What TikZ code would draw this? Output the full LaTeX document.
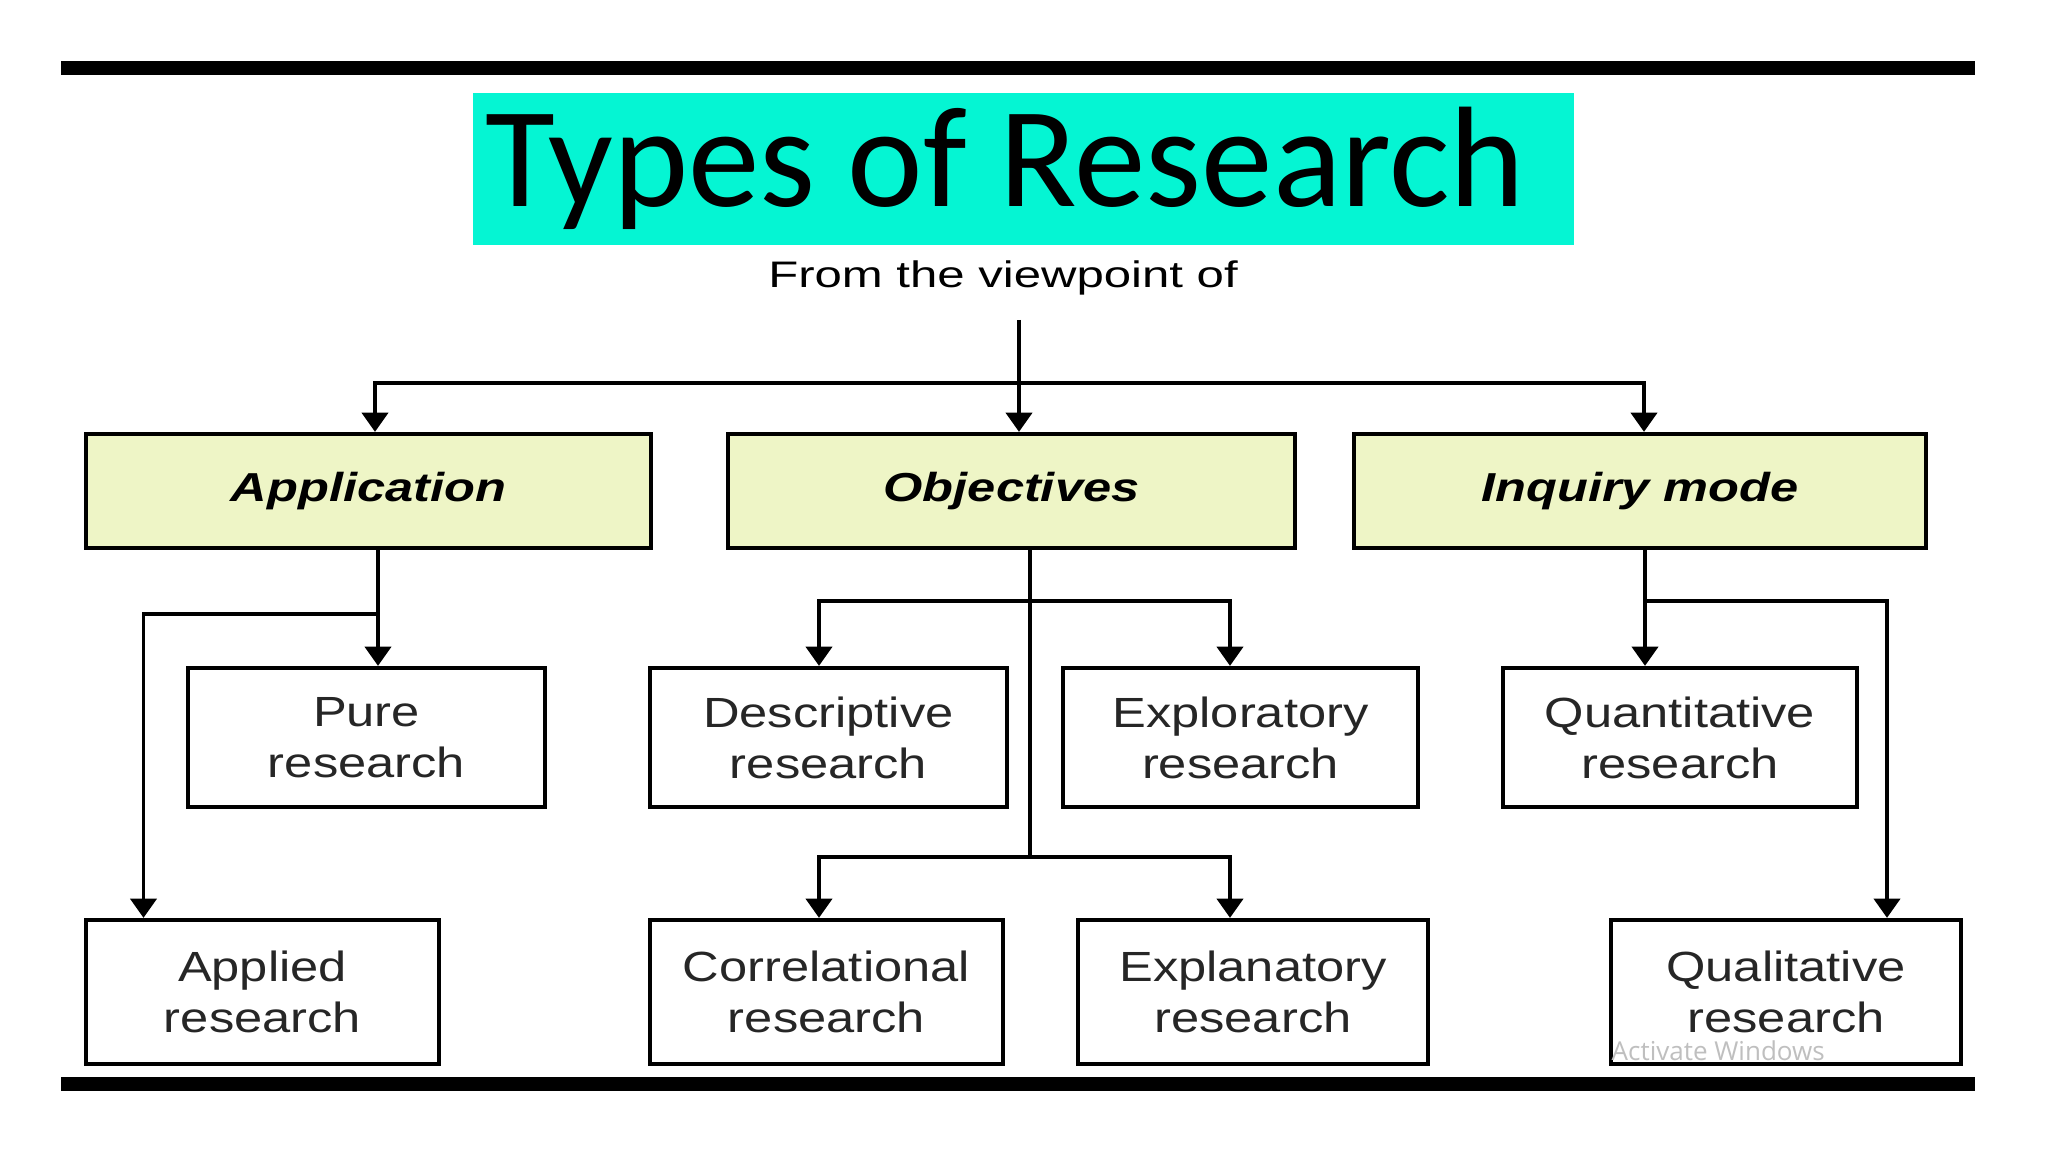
\documentclass[tikz,border=0pt]{standalone}
\usepackage{fontspec}
\usetikzlibrary{arrows.meta}
\setmainfont{Liberation Sans}
\newfontfamily\titlefont{Carlito}
\newfontfamily\catfont[FakeStretch=1.25]{Liberation Sans}
\newfontfamily\leaffont[FakeStretch=1.2]{Liberation Sans}
\newfontfamily\vpfont[FakeStretch=1.33]{Liberation Sans}
\newfontfamily\wmfont{Open Sans}
\definecolor{titlecyan}{HTML}{05F5D3}
\definecolor{catfill}{HTML}{EEF5C6}
\begin{document}
\begin{tikzpicture}[x=0.01cm,y=-0.01cm,
  catbox/.style={draw=black, line width=1.2pt, fill=catfill, minimum height=1.14cm, inner sep=0pt,
    font=\catfont\bfseries\itshape\fontsize{11.5}{13}\selectfont},
  leafbox/.style={draw=black, line width=1.2pt, fill=white, inner sep=0pt, align=center,
    text=black!85, font=\leaffont\fontsize{12}{14.5}\selectfont},
  conn/.style={line width=1pt},
  arr/.style={conn, -{Triangle[width=7.5pt,length=5.5pt]}}]

\useasboundingbox[fill=white] (0,0) rectangle (2048,1152);

% horizontal bars
\fill (61,61) rectangle (1975,75);
\fill (61,1077) rectangle (1975,1091);

% title
\node[fill=titlecyan, minimum width=11.01cm, minimum height=1.52cm, inner sep=0pt] (titlebox) at (1023.5,169) {};
\node[anchor=base, inner sep=0pt, font=\titlefont\fontsize{40.7}{48}\selectfont] (title) at (1005,207) {Types of Research};
\node[anchor=base, inner sep=0pt, font=\vpfont\fontsize{10.5}{12}\selectfont] (vp) at (1003,288) {From the viewpoint of};

% category boxes
\node[catbox, minimum width=5.65cm] (app) at (368.5,491) {Application};
\node[catbox, minimum width=5.67cm] (obj) at (1011.5,491) {Objectives};
\node[catbox, minimum width=5.72cm] (inq) at (1640,491) {Inquiry mode};

% leaf boxes, row 1
\node[leafbox, minimum width=3.57cm, minimum height=1.39cm] (pure) at (366.5,737.5) {Pure\\research};
\node[leafbox, minimum width=3.57cm, minimum height=1.39cm] (desc) at (828.5,737.5) {Descriptive\\research};
\node[leafbox, minimum width=3.55cm, minimum height=1.39cm] (expl) at (1240.5,737.5) {Exploratory\\research};
\node[leafbox, minimum width=3.54cm, minimum height=1.39cm] (quan) at (1680,737.5) {Quantitative\\research};

% leaf boxes, row 2
\node[leafbox, minimum width=3.53cm, minimum height=1.44cm] (appl) at (262.5,992) {Applied\\research};
\node[leafbox, minimum width=3.53cm, minimum height=1.44cm] (corr) at (826.5,992) {Correlational\\research};
\node[leafbox, minimum width=3.50cm, minimum height=1.44cm] (expn) at (1253,992) {Explanatory\\research};
\node[leafbox, minimum width=3.50cm, minimum height=1.44cm] (qual) at (1786,992) {Qualitative\\research};

% top connectors
\coordinate (root) at (1019,320);
\coordinate (hub) at (1019,383);
\coordinate (ha) at (375,383);
\coordinate (hi) at (1644,383);
\draw[arr] (root) -- (root |- obj.north);
\draw[arr] (hub) -| (ha |- app.north);
\draw[arr] (hub) -| (hi |- inq.north);

% application branch
\coordinate (a1) at (378,614);
\coordinate (a2) at (143.5,614);
\draw[arr] (a1 |- app.south) -- (a1 |- pure.north);
\draw[arr] (a1) -- (a2) -- (a2 |- appl.north);

% objectives branch
\coordinate (o1) at (1030,601);
\coordinate (o2) at (1030,857);
\coordinate (xl) at (819,0);
\coordinate (xr) at (1230,0);
\draw[conn] (o1 |- obj.south) -- (o2);
\draw[arr] (o1) -| (xl |- desc.north);
\draw[arr] (o1) -| (xr |- expl.north);
\draw[arr] (o2) -| (xl |- corr.north);
\draw[arr] (o2) -| (xr |- expn.north);

% inquiry branch
\coordinate (i1) at (1645,601);
\coordinate (xq) at (1887,0);
\draw[arr] (i1 |- inq.south) -- (i1 |- quan.north);
\draw[arr] (i1) -| (xq |- qual.north);

% watermark
\node[anchor=base west, inner sep=0pt, text=black!25, font=\wmfont\fontsize{7.4}{8}\selectfont] (wm) at (1611,1060) {Activate Windows};
\end{tikzpicture}
\end{document}
